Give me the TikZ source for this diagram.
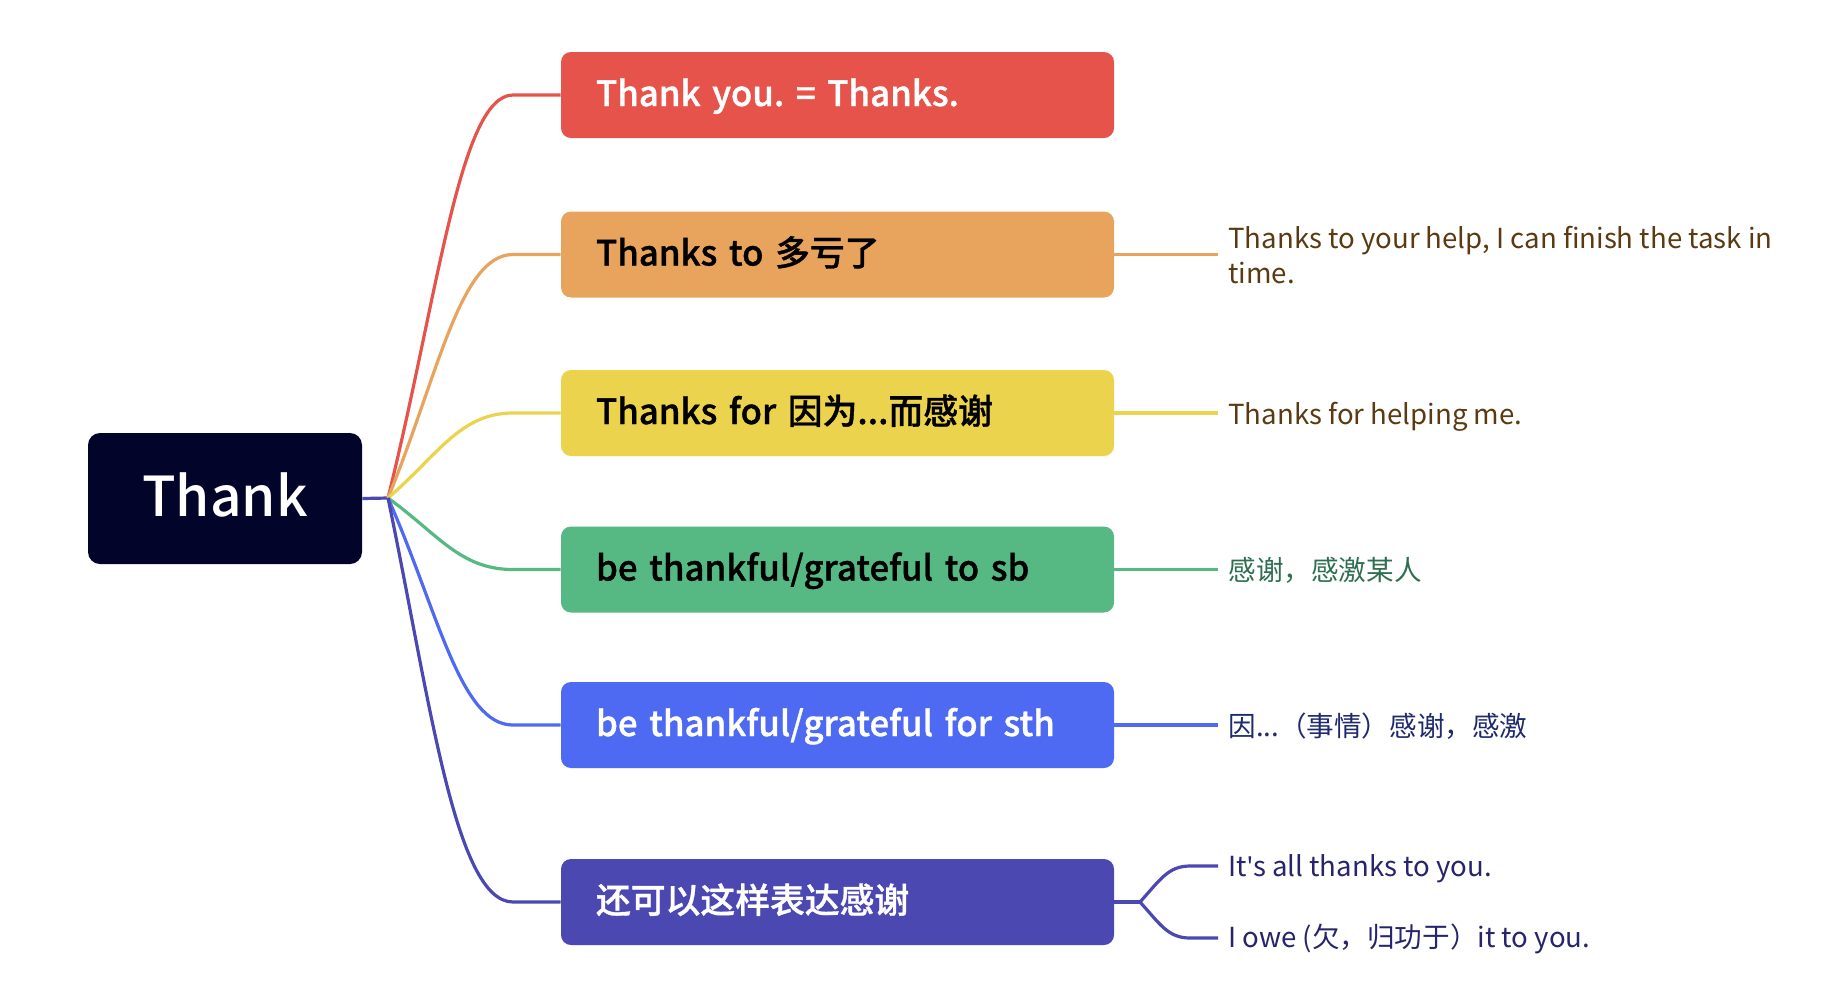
\documentclass[tikz,border=0pt]{standalone}
\usepackage{fontspec}
\setmainfont{Noto Sans CJK SC}[BoldFont={Noto Sans CJK SC Medium},BoldFeatures={FakeBold=1}]
\newfontfamily\medfont{Noto Sans CJK SC Medium}
\newfontfamily\latinap{Noto Sans}
\frenchspacing
\definecolor{rootc}{HTML}{02042A}
\definecolor{redc}{HTML}{E5534A}
\definecolor{orangec}{HTML}{E8A45D}
\definecolor{yellowc}{HTML}{ECD34E}
\definecolor{greenc}{HTML}{56B984}
\definecolor{bluec}{HTML}{4E6AF2}
\definecolor{purplec}{HTML}{4B48B2}
\definecolor{brownt}{HTML}{5B3A12}
\definecolor{greent}{HTML}{2F6F4F}
\definecolor{bluet}{HTML}{1E2A6E}
\definecolor{purplet}{HTML}{26246A}
\begin{document}
\begin{tikzpicture}[x=0.5pt,y=-0.5pt,
  rootbox/.style={fill=rootc,rounded corners=6pt,minimum width=137pt,minimum height=65.5pt,inner sep=0pt,text=white,text height=20pt,text depth=2.5pt,font=\medfont\fontsize{27.5}{30}\selectfont},
  branchbox/.style={rounded corners=5pt,minimum height=43pt,text width=241.5pt,inner xsep=17.5pt,inner ysep=0pt,align=left,text height=14pt,text depth=3pt,font=\bfseries\fontsize{17.4}{20}\selectfont},
  leaf/.style={anchor=west,inner xsep=5pt,inner ysep=0pt,align=left,text height=13pt,text depth=2pt,font=\fontsize{13.8}{17.5}\selectfont},
  conn/.style={line width=1.6pt}]
\useasboundingbox (0,0) rectangle (1843,1003);
\node[rootbox] (root) at (225,498.5) {Thank};
\node[branchbox,fill=redc,text=white] (b1) at (837.5,95) {Thank you. = Thanks.};
\node[branchbox,fill=orangec,text=black] (b2) at (837.5,254.5) {Thanks to 多亏了};
\node[branchbox,fill=yellowc,text=black] (b3) at (837.5,413) {Thanks for 因为...而感谢};
\node[branchbox,fill=greenc,text=black] (b4) at (837.5,569.5) {be thankful/grateful to sb};
\node[branchbox,fill=bluec,text=white] (b5) at (837.5,725) {be thankful/grateful for sth};
\node[branchbox,fill=purplec,text=white] (b6) at (837.5,902) {还可以这样表达感谢};
\coordinate (hub) at (388,498);
\draw[conn,purplec] (root.east) -- (hub);
\draw[conn,redc] (hub) .. controls (438,296) and (460,95) .. (513,95) -- (b1.west);
\draw[conn,orangec] (hub) .. controls (438,376) and (460,254.5) .. (513,254.5) -- (b2.west);
\draw[conn,yellowc] (hub) .. controls (438,455) and (460,413) .. (513,413) -- (b3.west);
\draw[conn,greenc] (hub) .. controls (438,534) and (460,569.5) .. (513,569.5) -- (b4.west);
\draw[conn,bluec] (hub) .. controls (438,611) and (460,725) .. (513,725) -- (b5.west);
\draw[conn,purplec] (hub) .. controls (430,700) and (455,902) .. (513,902) -- (b6.west);
\node[leaf,text=brownt] (l2) at (1218,272) {Thanks to your help, I can finish the task in\\time.};
\node[leaf,text=brownt] (l3) at (1218,413) {Thanks for helping me.};
\node[leaf,text=greent] (l4) at (1218,569.5) {感谢，感激某人};
\node[leaf,text=bluet] (l5) at (1218,725) {因...（事情）感谢，感激};
\node[leaf,text=purplet] (l6a) at (1218,865) {It{\latinap '}s all thanks to you.};
\node[leaf,text=purplet] (l6b) at (1218,936.5) {I owe (欠，归功于）it to you.};
\draw[conn,orangec] (b2.east) -- (b2.east -| l2.west);
\draw[conn,yellowc] (b3.east) -- (l3.west);
\draw[conn,greenc] (b4.east) -- (l4.west);
\draw[conn,bluec] (b5.east) -- (l5.west);
\coordinate (fork) at (1140,902);
\draw[conn,purplec] (b6.east) -- (fork);
\draw[conn,purplec] (fork) .. controls (1160,880) and (1168,866) .. (1190,866) -- (l6a.west |- 0,866);
\draw[conn,purplec] (fork) .. controls (1160,924) and (1168,938) .. (1190,938) -- (l6b.west |- 0,938);
\end{tikzpicture}
\end{document}
